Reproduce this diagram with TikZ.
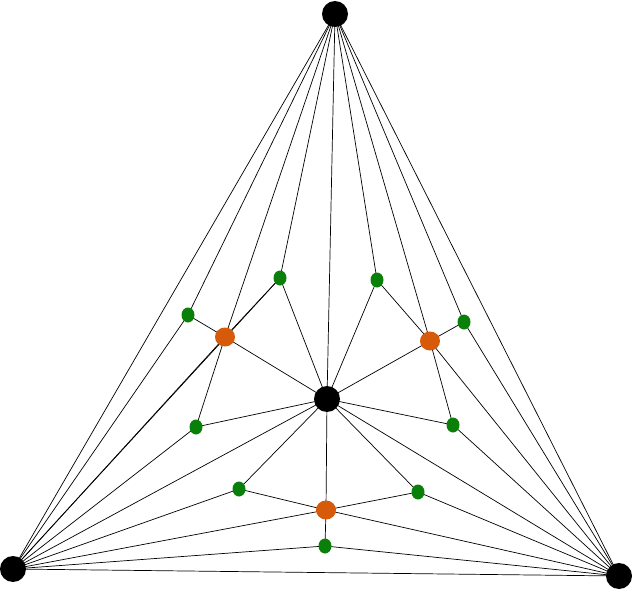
\documentclass[tikz,border=0pt]{standalone}
\usetikzlibrary{shapes.geometric}
\definecolor{org}{RGB}{214,90,10}
\definecolor{grn}{RGB}{10,128,10}
\begin{document}
\begin{tikzpicture}[x=0.03cm,y=-0.03cm,
 big/.style={circle,fill=black,inner sep=0pt,minimum size=26*0.03cm},
 mid/.style={ellipse,fill=org,inner sep=0pt,minimum width=20*0.03cm,minimum height=19*0.03cm},
 sm/.style={ellipse,fill=grn,inner sep=0pt,minimum width=13*0.03cm,minimum height=15*0.03cm},
 ln/.style={line width=0.6pt}]
\useasboundingbox (0,0) rectangle (633,591);
\coordinate (T) at (335,14); \coordinate (L) at (13,569); \coordinate (R) at (619,576);
\coordinate (C) at (327,399);
\coordinate (O1) at (225,337); \coordinate (O2) at (430,341); \coordinate (O3) at (326,510);
\coordinate (g1) at (188,315); \coordinate (g2) at (280,278); \coordinate (g3) at (196,427);
\coordinate (g4) at (377,280); \coordinate (g5) at (464,322); \coordinate (g6) at (453,425);
\coordinate (g7) at (239,489); \coordinate (g8) at (418,492); \coordinate (g9) at (325,546);
\foreach \a/\b in {T/L,T/R,L/R,T/g1,T/O1,T/g2,T/C,T/g4,T/O2,T/g5,
 L/g1,L/O1,L/g2,L/g3,L/C,L/g7,L/O3,L/g9,
 R/g5,R/O2,R/g6,R/C,R/g8,R/O3,R/g9,
 C/O1,C/g2,C/g3,C/g4,C/O2,C/g6,C/g7,C/O3,C/g8,
 O1/g1,O1/g2,O1/g3,O2/g4,O2/g5,O2/g6,O3/g7,O3/g8,O3/g9}
 \draw[ln] (\a) -- (\b);
\node[big] (nT) at (T) {}; \node[big] (nL) at (L) {}; \node[big] (nR) at (R) {}; \node[big] (nC) at (C) {};
\foreach \o in {O1,O2,O3} \node[mid] (n\o) at (\o) {};
\foreach \g in {g1,g2,g3,g4,g5,g6,g7,g8,g9} \node[sm] (n\g) at (\g) {};
\end{tikzpicture}
\end{document}
